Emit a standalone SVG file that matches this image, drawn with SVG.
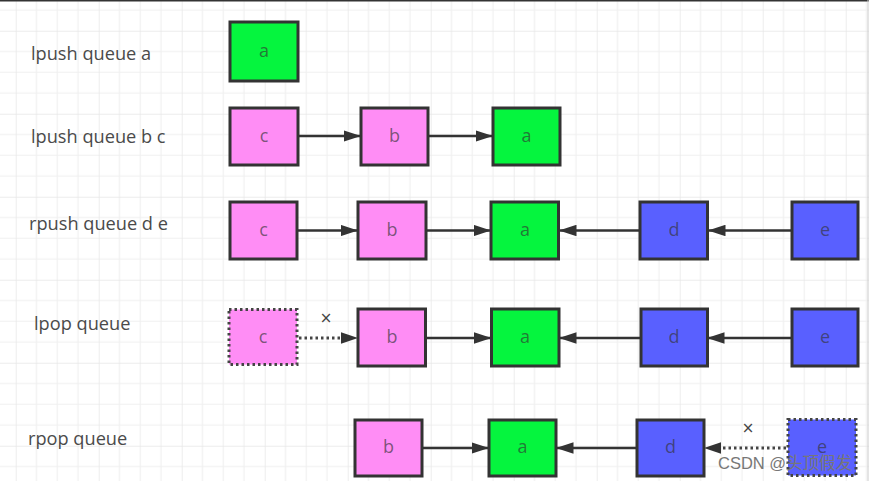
<svg xmlns="http://www.w3.org/2000/svg" width="869" height="481" viewBox="0 0 869 481">
<style>
.lbl{font-family:"Open Sans","Noto Sans",sans-serif;font-size:18.2px;fill:#4a4a4a}
.bt{font-family:"Open Sans","Noto Sans",sans-serif;font-size:18px;fill:#333;fill-opacity:0.65;text-anchor:middle}
.box{stroke:#333;stroke-width:3}
.dot{stroke:#444;stroke-width:3;stroke-dasharray:2.5 3}
.pk{fill:#ff8df5}
.gr{fill:#05f53e}
.bl{fill:#5960ff}
.ln{stroke:#333;stroke-width:2.5;fill:none}
.dl{stroke:#444;stroke-width:3;stroke-dasharray:2.5 3;fill:none}
.x{font-family:"DejaVu Sans",sans-serif;font-size:15px;fill:#444;text-anchor:middle}
</style>
<defs>
<pattern id="g" x="15.7" y="30.75" width="83" height="83" patternUnits="userSpaceOnUse">
<path d="M20.75 0V83M41.5 0V83M62.25 0V83M0 20.75H83M0 41.5H83M0 62.25H83" stroke="#f0f0f0" stroke-width="1.2" fill="none"/>
<path d="M0 0V83M0 0H83" stroke="#e6e6e6" stroke-width="1.4" fill="none"/>
</pattern>
<marker id="ah" viewBox="0 0 10 10" refX="10" refY="5" markerWidth="7" markerHeight="4.6" orient="auto" markerUnits="strokeWidth" preserveAspectRatio="none">
<path d="M0 0L10 5L0 10Z" fill="#333"/>
</marker>
</defs>
<rect width="869" height="481" fill="#fff"/>
<rect width="869" height="481" fill="url(#g)"/>
<rect x="0" y="0" width="869" height="1.5" fill="#333"/>
<line x1="868" y1="0" x2="868" y2="481" stroke="#ccc" stroke-width="1"/>

<g id="labels">
<text class="lbl" x="31" y="60">lpush queue a</text>
<text class="lbl" x="31" y="143">lpush queue b c</text>
<text class="lbl" x="29" y="230">rpush queue d e</text>
<text class="lbl" x="34" y="330">lpop queue</text>
<text class="lbl" x="28" y="445">rpop queue</text>
</g>

<g id="connectors">
<line class="ln" x1="298" y1="136" x2="361" y2="136" marker-end="url(#ah)"/>
<line class="ln" x1="428" y1="136" x2="493" y2="136" marker-end="url(#ah)"/>
<line class="ln" x1="297" y1="230.5" x2="358" y2="230.5" marker-end="url(#ah)"/>
<line class="ln" x1="426" y1="230.5" x2="491" y2="230.5" marker-end="url(#ah)"/>
<line class="ln" x1="640" y1="230.5" x2="559" y2="230.5" marker-end="url(#ah)"/>
<line class="ln" x1="792" y1="230.5" x2="708" y2="230.5" marker-end="url(#ah)"/>
<line class="dl" x1="299" y1="338" x2="345" y2="338"/>
<path d="M341 332.3L358 338L341 343.7Z" fill="#333"/>
<line class="ln" x1="426" y1="338" x2="491.5" y2="338" marker-end="url(#ah)"/>
<line class="ln" x1="641" y1="338" x2="559" y2="338" marker-end="url(#ah)"/>
<line class="ln" x1="792" y1="338" x2="707" y2="338" marker-end="url(#ah)"/>
<line class="ln" x1="422" y1="448" x2="489" y2="448" marker-end="url(#ah)"/>
<line class="ln" x1="637" y1="448" x2="556" y2="448" marker-end="url(#ah)"/>
<line class="dl" x1="786" y1="448" x2="717" y2="448"/>
<path d="M721 442.3L704 448L721 453.7Z" fill="#333"/>
<text class="x" x="326" y="323">×</text>
<text class="x" x="748" y="433">×</text>
</g>

<g id="r1-a"><rect class="box gr" x="230" y="22" width="68" height="59"/><text class="bt" x="264" y="57">a</text></g>

<g id="r2-c"><rect class="box pk" x="230" y="108" width="68" height="57"/><text class="bt" x="264" y="142">c</text></g>
<g id="r2-b"><rect class="box pk" x="361" y="108" width="67" height="57"/><text class="bt" x="394.5" y="142">b</text></g>
<g id="r2-a"><rect class="box gr" x="493" y="108" width="67" height="57"/><text class="bt" x="526.5" y="142">a</text></g>

<g id="r3-c"><rect class="box pk" x="230" y="202" width="67" height="57"/><text class="bt" x="263.5" y="236">c</text></g>
<g id="r3-b"><rect class="box pk" x="358" y="202" width="68" height="57"/><text class="bt" x="392" y="236">b</text></g>
<g id="r3-a"><rect class="box gr" x="491" y="202" width="67.5" height="57"/><text class="bt" x="525" y="236">a</text></g>
<g id="r3-d"><rect class="box bl" x="640" y="202" width="67.5" height="57"/><text class="bt" x="674" y="236">d</text></g>
<g id="r3-e"><rect class="box bl" x="792" y="202" width="66" height="57"/><text class="bt" x="825" y="236">e</text></g>

<g id="r4-c"><rect class="dot pk" x="229" y="309.5" width="68" height="55"/><text class="bt" x="263" y="343">c</text></g>
<g id="r4-b"><rect class="box pk" x="358" y="309" width="67.5" height="57"/><text class="bt" x="392" y="343">b</text></g>
<g id="r4-a"><rect class="box gr" x="491.5" y="309" width="67.5" height="57"/><text class="bt" x="525" y="343">a</text></g>
<g id="r4-d"><rect class="box bl" x="641" y="309" width="66.5" height="57"/><text class="bt" x="674" y="343">d</text></g>
<g id="r4-e"><rect class="box bl" x="792" y="309" width="66" height="57"/><text class="bt" x="825" y="343">e</text></g>

<g id="r5-b"><rect class="box pk" x="355" y="420" width="67" height="56"/><text class="bt" x="388.5" y="453">b</text></g>
<g id="r5-a"><rect class="box gr" x="489" y="420" width="67" height="56"/><text class="bt" x="522.5" y="453">a</text></g>
<g id="r5-d"><rect class="box bl" x="637" y="420" width="67" height="56"/><text class="bt" x="670.5" y="453">d</text></g>
<g id="r5-e"><rect class="dot bl" x="788" y="419.5" width="68" height="56"/><text class="bt" x="822" y="453">e</text></g>

<text x="718" y="469" font-family="'Liberation Sans','Noto Sans CJK SC',sans-serif" font-size="16.5" fill="#777">CSDN @头顶假发</text>
</svg>
